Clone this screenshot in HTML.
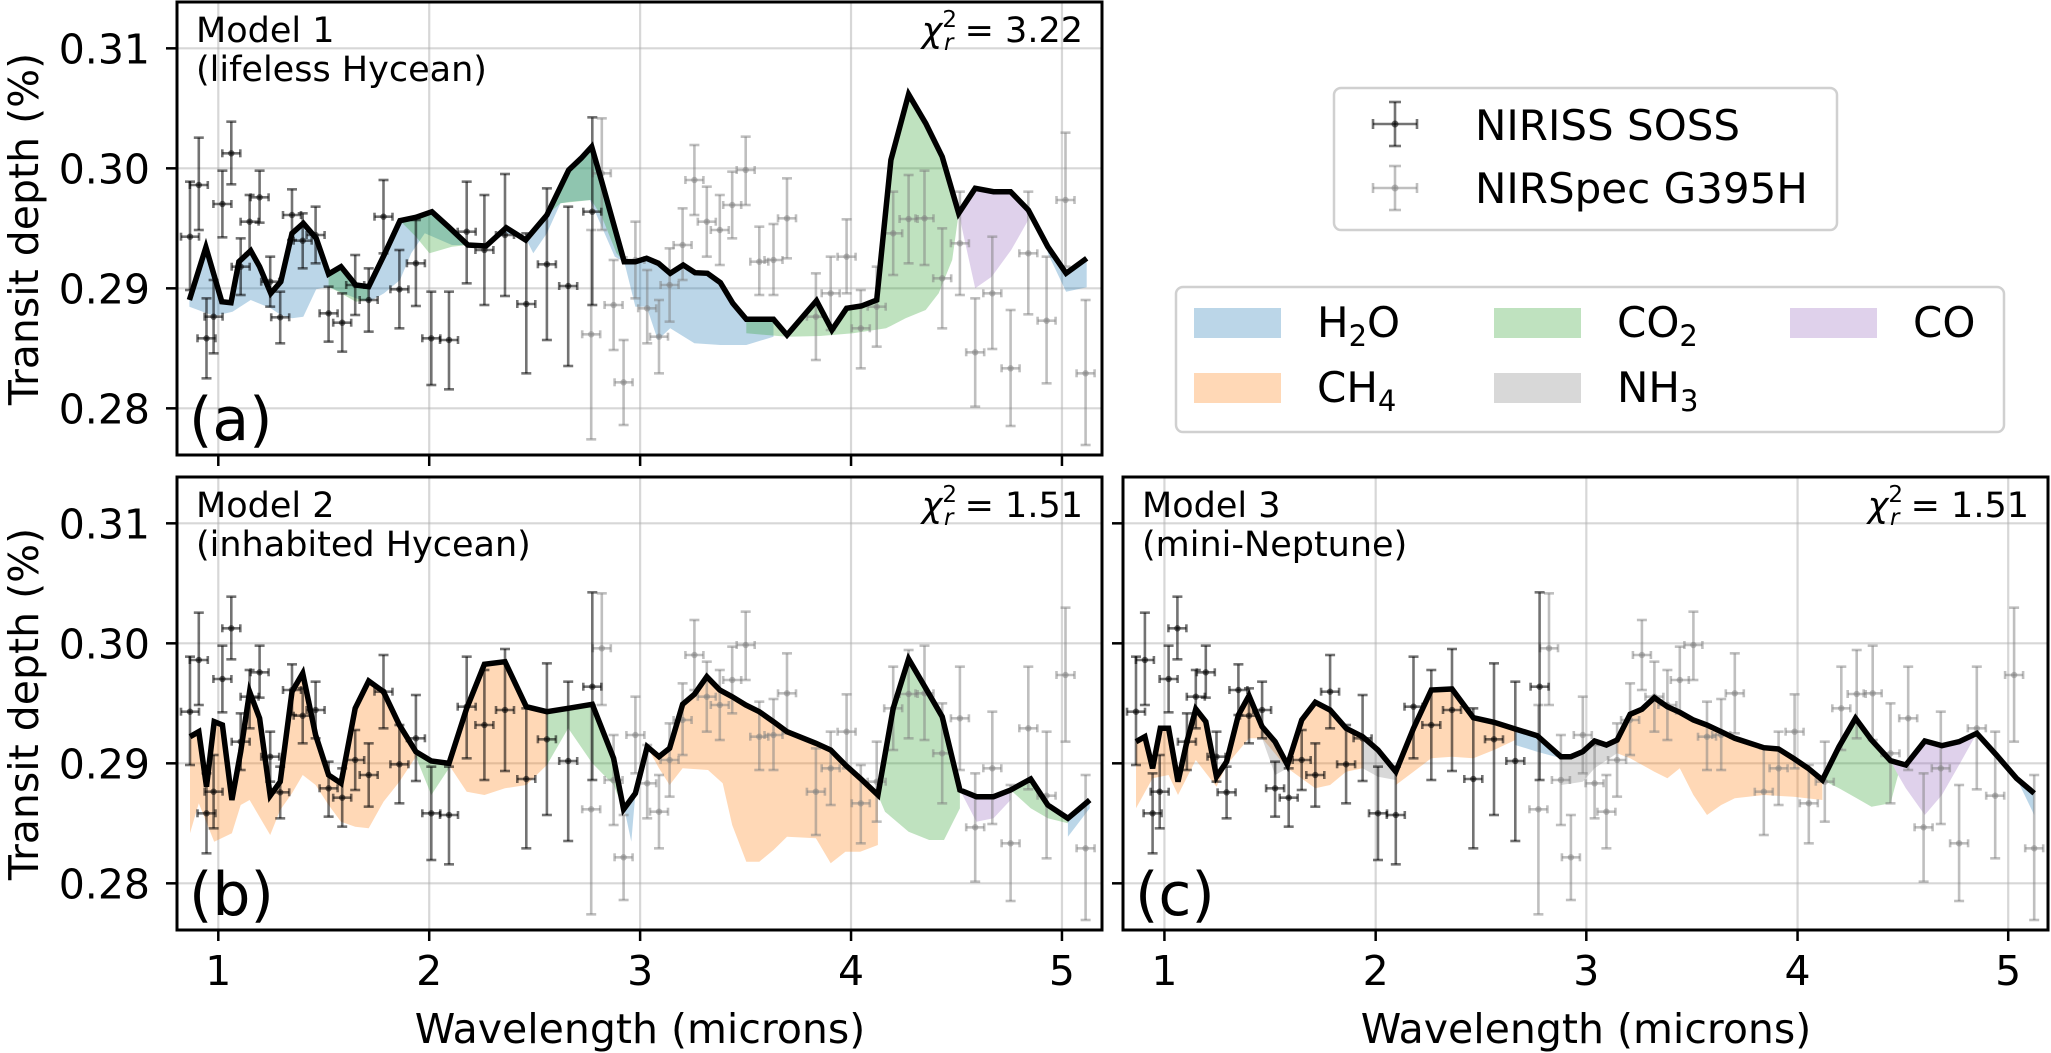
<!DOCTYPE html>
<html><head><meta charset="utf-8">
<style>
html,body{margin:0;padding:0;background:#fff;}
svg{display:block;font-family:"DejaVu Sans","Liberation Sans",sans-serif;}
</style></head>
<body>
<svg id="s" xmlns="http://www.w3.org/2000/svg" width="2051" height="1053" viewBox="0 0 2051 1053"></svg>
<script>
const S=document.getElementById('s');
const NS='http://www.w3.org/2000/svg';
function el(t,a,p){const e=document.createElementNS(NS,t);for(const k in a)e.setAttribute(k,a[k]);(p||S).appendChild(e);return e;}
function txt(x,y,s,a,p){const e=el('text',Object.assign({x:x,y:y},a||{}),p);e.innerHTML=s;return e;}

const dark=[[22,710,545,870],[37,555,413,690],[50,1015,895,1135],[62,950,840,1060],[77,612,512,712],[92,460,365,553],[108,800,715,885],[123,665,585,760],[140,592,512,668],[158,845,770,920],[175,952,875,1030],[195,645,568,720],[213,722,640,805],[235,705,620,790],[257,940,860,1025],[280,968,880,1055],[302,855,765,945],[325,900,805,995],[350,650,540,760],[377,868,750,985],[405,790,660,918],[431,1015,875,1155],[461,1020,875,1168],[491,695,545,850],[521,750,585,915],[556,705,522,888],[592,912,700,1120],[627,793,565,1020],[663,858,620,1098],[704,635,352,915]];
const grey=[[720,520,355,690],[702,1003,690,1318],[740,915,780,1050],[757,1147,1020,1275],[777,780,665,895],[797,925,810,1030],[817,1010,900,1120],[835,855,745,965],[857,735,625,840],[877,540,435,645],[898,665,560,770],[920,690,585,795],[941,615,515,715],[964,510,410,615],[987,785,680,885],[1011,780,672,885],[1034,655,535,775],[1083,950,820,1080],[1108,880,770,990],[1135,770,658,880],[1159,985,870,1105],[1186,920,800,1040],[1214,700,575,825],[1240,657,525,790],[1267,655,512,795],[1297,835,685,985],[1327,730,575,885],[1353,1057,895,1220],[1382,880,710,1047],[1413,1105,930,1278],[1443,760,575,943],[1474,962,770,1150],[1506,600,398,800],[1540,1120,900,1335]];

const C={h2o:'rgba(31,119,180,0.3)',ch4:'rgba(255,127,14,0.3)',co2:'rgba(44,160,44,0.3)',nh3:'rgba(127,127,127,0.3)',co:'rgba(148,103,189,0.3)'};

const lineA=[[21,900],[49,742],[76,905],[91.5,908],[105,785],[125,752],[140,800],[159,880],[176,845],[195,700],[214,670],[236,715],[257,822],[278,800],[303,855],[325,860],[351,765],[378,662],[405,652],[432,635],[460,680],[493,735],[524,738],[558,683],[591,720],[627,645],[664,510],[685,475],[703,440],[720,545],[739,665],[758,785],[777,785],[796,775],[816,790],[836,820],[858,795],[878,818],[899,820],[921,848],[942,910],[965,958],[1011,958],[1034,1005],[1084,902],[1110,990],[1135,925],[1160,918],[1186,900],[1210,480],[1240,283],[1269,370],[1297,470],[1325,640],[1353,565],[1384,575],[1413,575],[1443,630],[1476,740],[1507,820],[1542,775]];
function seg(line,x0,x1){return line.filter(p=>p[0]>=x0-0.5&&p[0]<=x1+0.5);}
function poly(top,bot){return top.concat(bot.slice().reverse());}

const fillsA=[
 [C.h2o, poly(seg(lineA,21,1011),[[21,920],[63,948],[94,935],[125,900],[159,925],[176,945],[195,955],[214,950],[236,868],[257,860],[282,880],[303,895],[325,905],[351,880],[378,840],[397,760],[420,700],[466,735],[493,735],[524,738],[558,700],[591,715],[604,760],[627,700],[650,610],[666,605],[700,600],[742,770],[758,785],[777,920],[796,920],[815,1020],[836,985],[877,1030],[921,1035],[965,1035],[1011,1010]])],
 [C.co2, poly(seg(lineA,257,325),[[257,860],[278,880],[303,905],[325,900]])],
 [C.co2, poly(seg(lineA,378,493),[[378,662],[405,710],[428,760],[466,740],[493,735]])],
 [C.co2, poly(seg(lineA,627,758),[[627,645],[650,610],[702,600],[720,650],[745,760],[758,785]])],
 [C.co2, poly(seg(lineA,965,1325),[[965,1000],[1034,1010],[1090,1008],[1146,1000],[1202,985],[1235,955],[1269,930],[1291,880],[1314,780],[1325,640]])],
 [C.co, poly(seg(lineA,1325,1443),[[1325,640],[1353,865],[1381,830],[1414,750],[1443,660]])],
 [C.h2o, poly(seg(lineA,1476,1542),[[1476,760],[1507,875],[1542,862]])]
];

const lineB=[[22,785],[37,770],[50,935],[63,740],[77,750],[93,975],[108,830],[123,650],[140,730],[158,962],[175,920],[195,650],[213,595],[235,780],[257,900],[278,925],[302,700],[325,618],[350,650],[377,750],[405,830],[431,858],[461,865],[491,700],[521,568],[556,560],[592,695],[627,710],[663,700],[704,688],[740,850],[757,1003],[777,955],[797,815],[817,845],[835,820],[857,688],[877,658],[898,605],[920,645],[941,665],[964,690],[987,710],[1011,740],[1034,770],[1083,805],[1108,825],[1133,870],[1158,910],[1188,960],[1214,700],[1240,552],[1269,640],[1297,725],[1327,945],[1355,965],[1384,965],[1413,945],[1447,912],[1476,990],[1510,1030],[1547,975]];
const fillsB=[
 [C.ch4, poly(seg(lineB,22,405),[[22,1075],[37,985],[63,1100],[93,1075],[108,990],[123,975],[158,1080],[175,1005],[195,955],[213,900],[235,930],[257,990],[278,1040],[302,1055],[325,1060],[350,980],[377,920],[405,845]])],
 [C.co2, poly(seg(lineB,405,461),[[405,845],[431,960],[461,880]])],
 [C.ch4, poly(seg(lineB,461,627),[[461,870],[491,950],[521,960],[556,940],[592,930],[627,870]])],
 [C.co2, poly(seg(lineB,627,757),[[627,870],[663,760],[704,865],[740,930],[757,1003]])],
 [C.h2o, [[740,850],[757,1003],[777,955],[770,1100]]],
 [C.ch4, poly(seg(lineB,797,1188),[[797,815],[817,880],[835,930],[857,880],[900,885],[925,925],[941,1050],[965,1160],[987,1160],[1011,1125],[1034,1085],[1083,1090],[1108,1165],[1133,1130],[1158,1130],[1188,1110]])],
 [C.co2, poly(seg(lineB,1188,1327),[[1188,960],[1200,1010],[1240,1070],[1275,1095],[1300,1095],[1327,1000]])],
 [C.co, poly(seg(lineB,1327,1413),[[1327,945],[1355,1040],[1384,1030],[1413,975]])],
 [C.co2, poly(seg(lineB,1413,1510),[[1413,945],[1447,1000],[1476,1030],[1510,1045]])],
 [C.h2o, poly(seg(lineB,1510,1547),[[1510,1085],[1547,1000]])]
];

const lineC=[[22,800],[37,785],[50,880],[63,760],[77,760],[93,920],[108,800],[123,702],[140,740],[158,905],[175,860],[195,720],[213,662],[235,755],[257,800],[278,870],[302,735],[325,682],[350,705],[377,760],[405,785],[431,825],[461,890],[491,760],[521,645],[556,642],[592,728],[627,742],[663,762],[700,782],[740,845],[757,845],[777,830],[797,798],[817,810],[835,795],[857,718],[877,703],[898,668],[920,695],[941,712],[964,735],[987,750],[1011,770],[1034,790],[1083,818],[1108,822],[1133,850],[1158,880],[1182,915],[1210,815],[1238,730],[1265,795],[1297,857],[1323,870],[1355,798],[1384,812],[1413,800],[1443,775],[1476,840],[1510,910],[1540,955]];
const fillsC=[
 [C.ch4, poly(seg(lineC,22,405),[[22,1000],[50,910],[77,900],[93,960],[123,855],[158,935],[175,870],[213,790],[235,790],[278,880],[325,940],[350,930],[377,890],[405,880]])],
 [C.nh3, poly(seg(lineC,235,300),[[235,790],[257,900],[278,880],[300,760]])],
 [C.nh3, poly(seg(lineC,405,461),[[405,880],[431,905],[461,915]])],
 [C.ch4, poly(seg(lineC,461,663),[[461,930],[491,890],[521,850],[556,845],[592,850],[627,825],[663,795]])],
 [C.h2o, poly(seg(lineC,663,757),[[663,810],[700,830],[740,850],[757,850]])],
 [C.nh3, poly(seg(lineC,740,835),[[740,930],[777,920],[797,880],[835,835]])],
 [C.ch4, poly(seg(lineC,835,1182),[[835,835],[857,850],[898,890],[920,910],[941,880],[964,960],[987,1020],[1011,990],[1034,970],[1083,960],[1133,965],[1182,975]])],
 [C.co2, poly(seg(lineC,1182,1297),[[1182,915],[1210,940],[1240,970],[1265,995],[1297,985],[1310,900]])],
 [C.co, poly(seg(lineC,1297,1443),[[1310,900],[1323,940],[1355,1020],[1384,960],[1413,870],[1443,775]])],
 [C.h2o, poly(seg(lineC,1510,1540),[[1540,1020]])]
];

function panel(px0,py0,fx,xticks,fills,line,clipId){
  const W=925,H=453,top=py0+2;
  const T=(p)=>[(px0+p[0]/fx).toFixed(1),(py0+p[1]/3).toFixed(1)];
  const cp=el('clipPath',{id:clipId});el('rect',{x:px0,y:top,width:W,height:H},cp);
  const g=el('g',{'clip-path':'url(#'+clipId+')'});
  for(const X of xticks){const x=px0+X/fx;el('line',{x1:x,y1:top,x2:x,y2:top+H,stroke:'#b0b0b0','stroke-opacity':0.5,'stroke-width':2.2},g);}
  for(const Y of [145,505,865,1225]){const y=py0+Y/3;el('line',{x1:px0,y1:y,x2:px0+W,y2:y,stroke:'#b0b0b0','stroke-opacity':0.5,'stroke-width':2.2},g);}
  for(const f of fills){el('polygon',{points:f[1].map(p=>T(p).join(',')).join(' '),fill:f[0]},g);}
  function eb(d,col,op){
    const [cx,cy]=T([d[0],d[1]]).map(Number);const y1=py0+d[2]/3,y2=py0+d[3]/3;
    const gg=el('g',{stroke:col,'stroke-opacity':op,'stroke-width':2.6,fill:'none'},g);
    el('line',{x1:cx,y1:y1,x2:cx,y2:y2},gg);
    el('line',{x1:cx-9,y1:cy,x2:cx+9,y2:cy},gg);
    el('line',{x1:cx-5,y1:y1,x2:cx+5,y2:y1},gg);
    el('line',{x1:cx-5,y1:y2,x2:cx+5,y2:y2},gg);
    el('line',{x1:cx-9,y1:cy-4,x2:cx-9,y2:cy+4},gg);
    el('line',{x1:cx+9,y1:cy-4,x2:cx+9,y2:cy+4},gg);
    el('circle',{cx:cx,cy:cy,r:3.2,fill:col,'fill-opacity':op,stroke:'none'},g);
  }
  for(const d of grey)eb(d,'#7f7f7f',0.5);
  for(const d of dark)eb(d,'#000',0.55);
  el('polyline',{points:line.map(p=>T(p).join(',')).join(' '),fill:'none',stroke:'#000','stroke-width':5.5,'stroke-linejoin':'miter'},g);
  el('rect',{x:px0,y:top,width:W,height:H,fill:'none',stroke:'#000','stroke-width':3});
  for(const X of xticks){const x=px0+X/fx;el('line',{x1:x,y1:top+H,x2:x,y2:top+H+11,stroke:'#000','stroke-width':2.5});}
  for(const Y of [145,505,865,1225]){const y=py0+Y/3;el('line',{x1:px0,y1:y,x2:px0-11,y2:y,stroke:'#000','stroke-width':2.5});}
}
const xtB=[70,427.5,785,1142.5,1500];
panel(177,0,1.695,xtB,fillsA,lineA,'ca');
panel(177,475,1.695,xtB,fillsB,lineB,'cb');
panel(1123,475,1.69,[70,427,783,1140,1496],fillsC,lineC,'cc');

for(const py0 of [0,475]){
  const labs=['0.31','0.30','0.29','0.28'];
  [145,505,865,1225].forEach((Y,i)=>txt(150,py0+Y/3+15,labs[i],{'font-size':41,'text-anchor':'end'}));
  const cy=py0+229;
  txt(0,0,'Transit depth (%)',{'font-size':41,'text-anchor':'middle',transform:'translate(38,'+cy+') rotate(-90)'});
}
[xtB.map(X=>177+X/1.695),[70,427,783,1140,1496].map(X=>1123+X/1.69)].forEach(arr=>arr.forEach((x,i)=>txt(x,985,String(i+1),{'font-size':41,'text-anchor':'middle'})));
txt(640,1043,'Wavelength (microns)',{'font-size':41,'text-anchor':'middle'});
txt(1586,1043,'Wavelength (microns)',{'font-size':41,'text-anchor':'middle'});

const pl=[[196,42,'Model 1','(lifeless Hycean)','3.22','(a)'],[196,517,'Model 2','(inhabited Hycean)','1.51','(b)'],[1142,517,'Model 3','(mini-Neptune)','1.51','(c)']];
pl.forEach((p,i)=>{
  txt(p[0],p[1],p[2],{'font-size':35});
  txt(p[0],p[1]+39,p[3],{'font-size':35});
  const rx=(i==2?2029:1083);
  const t=el('text',{x:rx,y:p[1],'font-size':35,'text-anchor':'end'});
  t.innerHTML='<tspan font-style="italic">χ</tspan><tspan font-size="23" dy="-15">2</tspan><tspan font-size="23" font-style="italic" dx="-13" dy="23">r</tspan><tspan dy="-8"> = '+p[4]+'</tspan>';
  txt(p[0]-7,p[1]+398,p[5],{'font-size':60});
});

el('rect',{x:1334,y:88,width:503,height:142,rx:7,fill:'#fff',stroke:'#d0d0d0','stroke-width':2.5});
function legEB(cx,cy,col,op){const g=el('g',{stroke:col,'stroke-opacity':op,'stroke-width':2.6});
 el('line',{x1:cx,y1:cy-22,x2:cx,y2:cy+22},g);el('line',{x1:cx-22,y1:cy,x2:cx+22,y2:cy},g);
 el('line',{x1:cx-6,y1:cy-22,x2:cx+6,y2:cy-22},g);el('line',{x1:cx-6,y1:cy+22,x2:cx+6,y2:cy+22},g);
 el('line',{x1:cx-22,y1:cy-5,x2:cx-22,y2:cy+5},g);el('line',{x1:cx+22,y1:cy-5,x2:cx+22,y2:cy+5},g);
 el('circle',{cx:cx,cy:cy,r:3.5,fill:col,'fill-opacity':op,stroke:'none'});}
legEB(1395,124,'#000',0.55);legEB(1395,188,'#7f7f7f',0.5);
txt(1475,140,'NIRISS SOSS',{'font-size':42});
txt(1475,203,'NIRSpec G395H',{'font-size':42});
el('rect',{x:1176,y:287,width:828,height:145,rx:7,fill:'#fff',stroke:'#d0d0d0','stroke-width':2.5});
const lg=[[1194,308,C.h2o,'H<tspan font-size="29" dy="9">2</tspan><tspan dy="-9">O</tspan>'],[1194,373,C.ch4,'CH<tspan font-size="29" dy="9">4</tspan>'],[1494,308,C.co2,'CO<tspan font-size="29" dy="9">2</tspan>'],[1494,373,C.nh3,'NH<tspan font-size="29" dy="9">3</tspan>'],[1790,308,C.co,'CO']];
lg.forEach(l=>{el('rect',{x:l[0],y:l[1],width:87,height:30,fill:l[2]});txt(l[0]+123,l[1]+29,l[3],{'font-size':42});});
</script>
</body></html>
